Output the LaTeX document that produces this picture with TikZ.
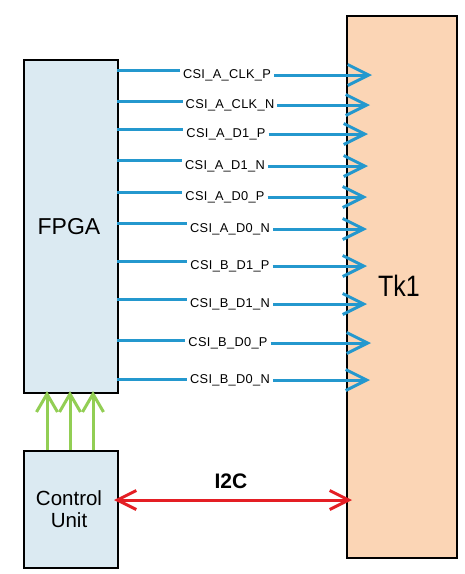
\documentclass[tikz,border=0pt]{standalone}
\usepackage{fontspec}
\usepackage{graphicx}
\setmainfont{Liberation Sans}
\usetikzlibrary{arrows.meta,shadows}
\definecolor{fpgafill}{RGB}{219,234,242}
\definecolor{tkfill}{RGB}{251,213,181}
\definecolor{sigblue}{RGB}{36,152,206}
\definecolor{ctlgreen}{RGB}{146,206,84}
\definecolor{i2cred}{RGB}{228,30,36}
\tikzset{
  block/.style={draw=black, line width=1.5pt, inner sep=0pt, anchor=north west,
    drop shadow={shadow xshift=1.5pt, shadow yshift=-1.5pt, opacity=0.35}},
  sig/.style={draw=sigblue, line width=3pt},
  sigarrow/.style={sig, -{Straight Barb[length=21pt,width=21pt]}},
  siglabel/.style={font=\fontsize{12.8}{14}\selectfont\addfontfeature{LetterSpace=2.5}, inner xsep=3pt, inner ysep=0pt},
  ctl/.style={draw=ctlgreen, line width=3pt, -{Straight Barb[length=18pt,width=21pt]}},
  i2c/.style={draw=i2cred, line width=3pt, {Straight Barb[length=19pt,width=19pt]}-{Straight Barb[length=19pt,width=19pt]}}
}
\begin{document}
\begin{tikzpicture}[x=1pt,y=-1pt]
\useasboundingbox (0,0) rectangle (465,574);
\fill[white] (0,0) rectangle (465,574);
% blocks
\node[block, fill=tkfill, minimum width=110pt, minimum height=542pt] (tk) at (346,15) {};
\node[block, fill=fpgafill, minimum width=94pt, minimum height=333pt] (fpga) at (23,59) {};
\node[block, fill=fpgafill, minimum width=94pt, minimum height=117pt] (cu) at (23,450) {};
\node[font=\fontsize{23}{26}\selectfont] (fpgat) at (69,227) {FPGA};
\node[font=\fontsize{25}{28}\selectfont] (tkt) at (399,286) {\scalebox{1}[1.18]{Tk1}};
\node[font=\fontsize{20.5}{21.5}\selectfont, align=center] (cut) at (69,509) {Control\\Unit};
% signals
\foreach \i/\yl/\yr/\xc/\xt/\txt in {
  1/70/75/227/372/CSI\_A\_CLK\_P,
  2/101/105/230/370/CSI\_A\_CLK\_N,
  3/129/134/226/368/CSI\_A\_D1\_P,
  4/160/166/225/368/CSI\_A\_D1\_N,
  5/192/197/225/367/CSI\_A\_D0\_P,
  6/223/229/230/367/CSI\_A\_D0\_N,
  7/261/266/230/367/CSI\_B\_D1\_P,
  8/299/304/230/367/CSI\_B\_D1\_N,
  9/340/343/228/371/CSI\_B\_D0\_P,
  10/379/380/230/370/CSI\_B\_D0\_N}{
  \coordinate (s\i) at (117,\yl);
  \node[siglabel] (l\i) at (\xc,\yr) {\txt};
  \coordinate (t\i) at (\xt,\yr);
  \draw[sig] (s\i) -- (s\i -| l\i.west);
  \draw[sigarrow] (l\i.east) -- (t\i);
}
% control lines
\foreach \x in {47,70,93}{
  \coordinate (cb\x) at (\x,450);
  \coordinate (ft\x) at (\x,391);
  \draw[ctl] (cb\x) -- (ft\x);
}
% I2C
\coordinate (i2cl) at (114,500);
\coordinate (i2cr) at (352,500);
\draw[i2c] (i2cl) -- (i2cr);
\node[font=\bfseries\fontsize{21}{23}\selectfont] (i2ct) at (231,481) {I2C};
\end{tikzpicture}
\end{document}
